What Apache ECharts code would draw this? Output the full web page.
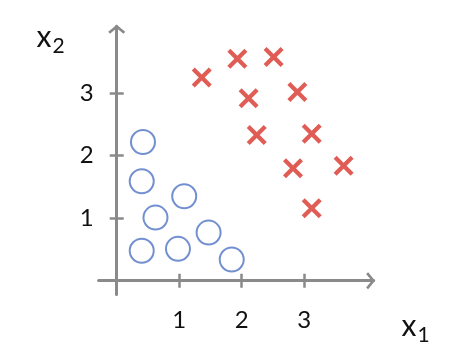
<!DOCTYPE html>
<html>
<head>
<meta charset="utf-8">
<script src="https://cdn.jsdelivr.net/npm/echarts@6/dist/echarts.min.js"></script>
<style>
html,body{margin:0;padding:0;background:#fff;}
#chart{width:450px;height:356px;}
</style>
</head>
<body>
<div id="chart"></div>
<script>
// Data
const xTicks = [1, 2, 3];
const yTicks = [1, 2, 3];
const circleX = [0.42, 0.40, 1.08, 0.62, 0.40, 0.98, 1.47, 1.84];
const circleY = [2.22, 1.59, 1.35, 1.01, 0.48, 0.51, 0.77, 0.34];
const crossX = [1.36, 1.93, 2.51, 2.11, 2.89, 2.24, 3.12, 2.82, 3.63, 3.12];
const crossY = [3.25, 3.55, 3.58, 2.92, 3.02, 2.33, 2.35, 1.80, 1.84, 1.16];

const xMin = -0.29, xMax = 4.11;
const yMin = -0.22, yMax = 4.07;

const axisColor = '#8a8a8a';
const font = 'Lato, "Open Sans", sans-serif';
const chevron = 'path://M10 0 L20 8.2 L18 10.6 L10 4 L2 10.6 L0 8.2 Z';
const crossPath = 'path://M0 3 L3 0 L10 7 L17 0 L20 3 L13 10 L20 17 L17 20 L10 13 L3 20 L0 17 L7 10 Z';

const gridPos = {left: 98.6, right: 76.4, top: 26.3, bottom: 61.55};

const chart = echarts.init(document.getElementById('chart'), null, {renderer: 'canvas'});
chart.setOption({
  animation: false,
  backgroundColor: '#fff',
  grid: [
    Object.assign({}, gridPos, {containLabel: false}),
    Object.assign({}, gridPos, {containLabel: false})
  ],
  xAxis: [
    {
      type: 'value', gridIndex: 0, min: xMin, max: xMax,
      name: '{a|x}{b|1}', nameLocation: 'end', nameGap: 28,
      nameTextStyle: {align: 'left', verticalAlign: 'top', padding: [26, 0, 0, 0],
        rich: {a: {fontSize: 30, fontFamily: font, color: '#111'},
               b: {fontSize: 21, fontFamily: font, color: '#111', padding: [18, 0, 0, 1]}}},
      axisLine: {show: true, onZero: true, lineStyle: {color: axisColor, width: 3},
        symbol: ['none', chevron], symbolSize: [17, 9], symbolOffset: [0, -3]},
      axisTick: {show: true, inside: false, length: 7, customValues: xTicks,
        lineStyle: {color: axisColor, width: 2.5}},
      axisLabel: {show: true, customValues: xTicks, margin: 14, fontSize: 24,
        fontFamily: font, color: '#111'},
      splitLine: {show: false}
    },
    {
      type: 'value', gridIndex: 1, min: xMin, max: xMax,
      axisLine: {show: true, onZero: true, lineStyle: {color: axisColor, width: 0, opacity: 0}},
      axisTick: {show: true, inside: true, length: 7, customValues: xTicks,
        lineStyle: {color: axisColor, width: 2.5}},
      axisLabel: {show: false},
      splitLine: {show: false}
    }
  ],
  yAxis: [
    {
      type: 'value', gridIndex: 0, min: yMin, max: yMax,
      name: '{a|x}{b|2}', nameLocation: 'end', nameGap: -11,
      nameTextStyle: {align: 'right', verticalAlign: 'middle', padding: [0, 52, 0, 0],
        rich: {a: {fontSize: 30, fontFamily: font, color: '#111'},
               b: {fontSize: 21, fontFamily: font, color: '#111', padding: [18, 0, 0, 1]}}},
      axisLine: {show: true, onZero: true, lineStyle: {color: axisColor, width: 3},
        symbol: ['none', chevron], symbolSize: [17, 9], symbolOffset: [0, -3]},
      axisTick: {show: true, inside: false, length: 7, customValues: yTicks,
        lineStyle: {color: axisColor, width: 2.5}},
      axisLabel: {show: true, customValues: yTicks, margin: 5, fontSize: 24,
        fontFamily: font, color: '#111'},
      splitLine: {show: false}
    },
    {
      type: 'value', gridIndex: 1, min: yMin, max: yMax,
      axisLine: {show: true, onZero: true, lineStyle: {color: axisColor, width: 0, opacity: 0}},
      axisTick: {show: true, inside: true, length: 7, customValues: yTicks,
        lineStyle: {color: axisColor, width: 2.5}},
      axisLabel: {show: false},
      splitLine: {show: false}
    }
  ],
  series: [
    {
      type: 'scatter', xAxisIndex: 0, yAxisIndex: 0,
      data: circleX.map((x, i) => [x, circleY[i]]),
      symbol: 'emptyCircle', symbolSize: 24,
      itemStyle: {color: '#4f73c4', borderColor: '#4f73c4', borderWidth: 2.5},
      z: 5
    },
    {
      type: 'scatter', xAxisIndex: 0, yAxisIndex: 0,
      data: crossX.map((x, i) => [x, crossY[i]]),
      symbol: crossPath, symbolSize: 20,
      itemStyle: {color: '#d8352a'},
      z: 5
    }
  ]
});
</script>
</body>
</html>
